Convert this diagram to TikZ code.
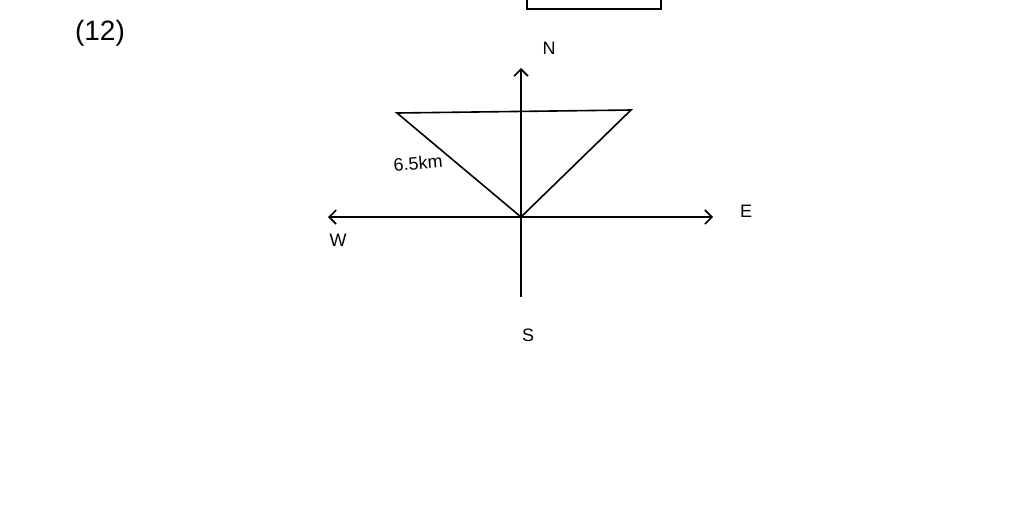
\documentclass[tikz,border=0pt]{standalone}
\usepackage{fontspec}
\setmainfont{Liberation Sans}
\usetikzlibrary{arrows.meta}
\begin{document}
\begin{tikzpicture}[x=1pt,y=-1pt,
  axis/.style={line width=1.6pt,-{Straight Barb[length=7pt,width=14pt]}},
  line/.style={line width=1.6pt},
  lbl/.style={font=\fontsize{18}{20}\selectfont}]
\useasboundingbox[fill=white] (0,0) rectangle (1024,512);
\coordinate (O) at (521,217);
\coordinate (Ntip) at (521,68);
\coordinate (Sbot) at (521,297);
\coordinate (Etip) at (713,217);
\coordinate (Wtip) at (328,217);
\coordinate (A) at (397,113);
\coordinate (B) at (631,110);
\draw[axis] (Sbot) -- (Ntip);
\draw[axis] (O) -- (Etip);
\draw[axis] (O) -- (Wtip);
\draw[line] (A) -- (B) -- (O) -- cycle;
\draw[line] (527,-5) -- (527,9) -- (661,9) -- (661,-5);
\node[lbl] (n) at (549,48) {N};
\node[lbl] (s) at (528,335) {S};
\node[lbl] (e) at (746,211) {E};
\node[lbl] (w) at (338,240) {W};
\node[font=\fontsize{28}{30}\selectfont] (num) at (100,33) {(12)};
\node[lbl, rotate=5] (d) at (418,163) {6.5km};
\end{tikzpicture}
\end{document}
